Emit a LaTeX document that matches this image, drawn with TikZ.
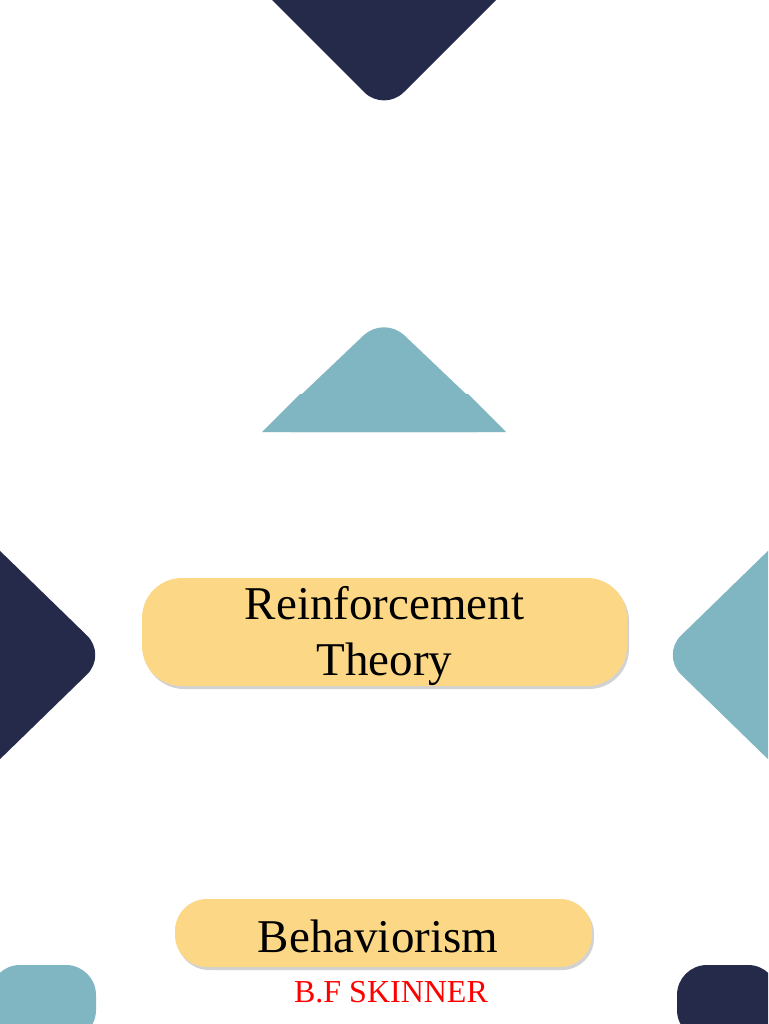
\documentclass[tikz,border=0pt]{standalone}
\usepackage{fontspec}
\setmainfont{Liberation Serif}
\usetikzlibrary{shadows}
\definecolor{navy}{HTML}{262A4A}
\definecolor{teal2}{HTML}{7FB6C2}
\definecolor{pill}{HTML}{FCD886}
\begin{document}
\begin{tikzpicture}[x=1pt,y=-1pt,
  pillbox/.style={fill=pill,rounded corners=40pt,drop shadow={shadow xshift=2pt,shadow yshift=-3pt,opacity=0.35}}]
\useasboundingbox (0,0) rectangle (768,1024);
\fill[white] (0,0) rectangle (768,1024);
\begin{scope}
\clip (0,0) rectangle (768,1024);
\fill[navy,rounded corners=28pt] (222,-50) -- (384,112) -- (546,-50) -- cycle;
\fill[teal2,rounded corners=28pt] (262,432) -- (384,316) -- (506,432) -- cycle;
\fill[teal2] (262,432) -- (300,394) -- (468,394) -- (506,432) -- cycle;
\fill[navy,rounded corners=28pt] (-42,510) -- (107,655) -- (-42,800) -- cycle;
\fill[teal2,rounded corners=28pt] (810,510) -- (661,655) -- (810,800) -- cycle;
\fill[teal2,rounded corners=30pt] (-10,965) -- (96,965) -- (96,1040) -- (-10,1040) -- cycle;
\fill[navy,rounded corners=30pt] (677,965) -- (778,965) -- (778,1040) -- (677,1040) -- cycle;
\end{scope}
\path[pillbox] (142,578) rectangle (627,686);
\node[font=\fontsize{47}{56}\selectfont,align=center] (t1) at (384.5,636) {Reinforcement\\Theory};
\path[pillbox,rounded corners=32pt] (175,899) rectangle (592,967);
\node[font=\fontsize{47}{56}\selectfont] (t2) at (378,936) {Behaviorism};
\node[font=\fontsize{32}{36}\selectfont,text=red] (t3) at (391,992) {B.F SKINNER};
\begin{scope}
\clip (0,0) rectangle (768,1024);
\node[font=\fontsize{47}{56}\selectfont] (t4) at (384,1042) {States that behavior followed};
\end{scope}
\end{tikzpicture}
\end{document}
